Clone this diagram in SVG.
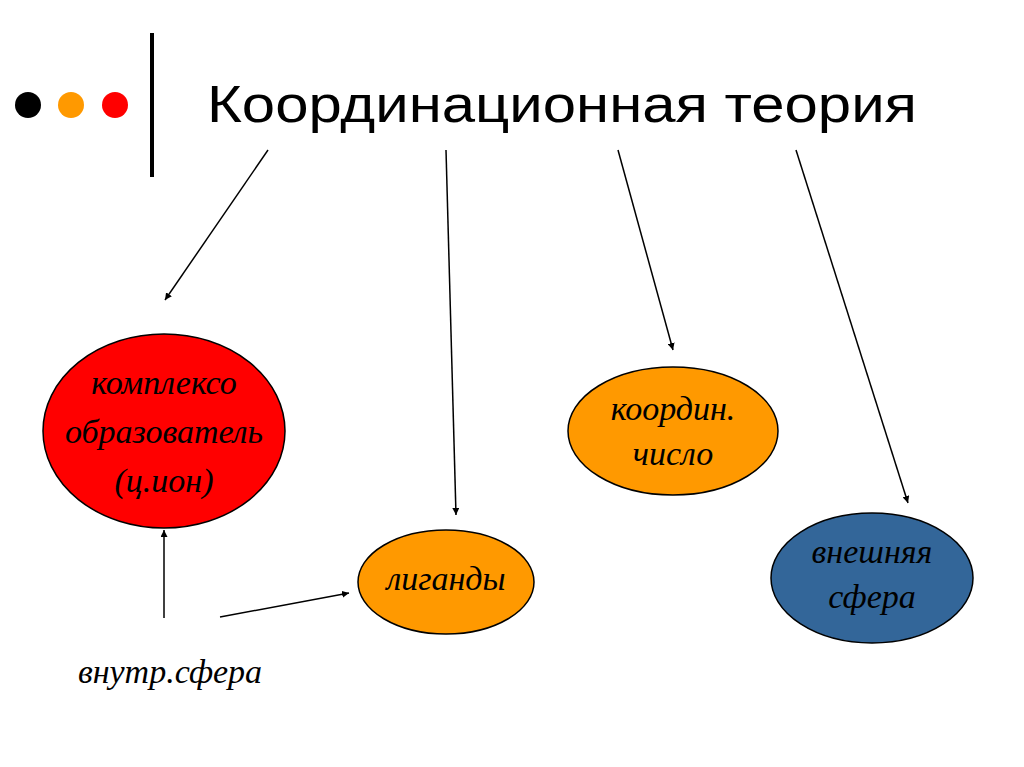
<svg xmlns="http://www.w3.org/2000/svg" width="1024" height="767" viewBox="0 0 1024 767">
<defs>
<marker id="ah" viewBox="0 0 10 10" refX="10" refY="5" markerWidth="7" markerHeight="7" markerUnits="userSpaceOnUse" orient="auto">
<path d="M0,0 L10,5 L0,10 z" fill="#000"/>
</marker>
</defs>
<style>
.lbl{font-family:"Liberation Serif","DejaVu Serif",serif;font-style:italic;font-size:34px;fill:#000;text-anchor:middle}
.conn line{stroke:#000;stroke-width:1.5;marker-end:url(#ah)}
.node ellipse{stroke:#000;stroke-width:1.5}
</style>
<rect width="1024" height="767" fill="#fff"/>
<g id="decor">
<circle cx="28" cy="105" r="13" fill="#000"/>
<circle cx="71" cy="105" r="13" fill="#ff9900"/>
<circle cx="115" cy="105" r="13" fill="#ff0000"/>
<rect x="150" y="33" width="4" height="144" fill="#000"/>
</g>
<g id="title">
<text x="207" y="122" font-family="'Liberation Sans',Arial,sans-serif" font-size="52" fill="#000" textLength="710" lengthAdjust="spacingAndGlyphs">Координационная теория</text>
</g>
<g id="node-complex" class="node">
<ellipse cx="164" cy="431" rx="121" ry="97" fill="#ff0000"/>
<text class="lbl" x="164" y="394">комплексо</text>
<text class="lbl" x="164" y="443">образователь</text>
<text class="lbl" x="164" y="492">(ц.ион)</text>
</g>
<g id="node-ligands" class="node">
<ellipse cx="446" cy="582" rx="88" ry="52" fill="#ff9900"/>
<text class="lbl" x="446" y="590">лиганды</text>
</g>
<g id="node-coord" class="node">
<ellipse cx="673" cy="431" rx="105" ry="64" fill="#ff9900"/>
<text class="lbl" x="673" y="420">координ.</text>
<text class="lbl" x="673" y="465">число</text>
</g>
<g id="node-outer" class="node">
<ellipse cx="872" cy="578" rx="101" ry="65" fill="#336699"/>
<text class="lbl" x="872" y="563">внешняя</text>
<text class="lbl" x="872" y="608">сфера</text>
</g>
<g id="node-inner">
<text class="lbl" x="170" y="683">внутр.сфера</text>
</g>
<g id="connectors" class="conn">
<line x1="268" y1="150" x2="165" y2="300"/>
<line x1="446" y1="150" x2="456" y2="515"/>
<line x1="618" y1="150" x2="673" y2="350"/>
<line x1="796" y1="150" x2="908" y2="503"/>
<line x1="164" y1="618" x2="164" y2="530"/>
<line x1="220" y1="617" x2="349" y2="593"/>
</g>
</svg>
